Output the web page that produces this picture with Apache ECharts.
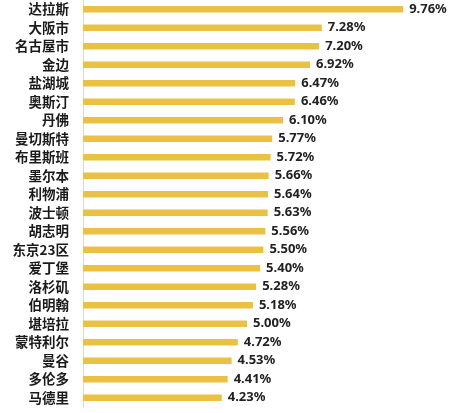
<!DOCTYPE html>
<html><head><meta charset="utf-8">
<script src="https://cdn.jsdelivr.net/npm/echarts@6/dist/echarts.min.js"></script>
<style>html,body{margin:0;padding:0;background:#fff}#c{width:457px;height:413px}</style>
</head><body><div id="c"></div>
<script>
const categories = ["达拉斯","大阪市","名古屋市","金边","盐湖城","奥斯汀","丹佛","曼切斯特","布里斯班","墨尔本","利物浦","波士顿","胡志明","东京23区","爱丁堡","洛杉矶","伯明翰","堪培拉","蒙特利尔","曼谷","多伦多","马德里"];
const values = [9.76,7.28,7.20,6.92,6.47,6.46,6.10,5.77,5.72,5.66,5.64,5.63,5.56,5.50,5.40,5.28,5.18,5.00,4.72,4.53,4.41,4.23];
const chart = echarts.init(document.getElementById('c'));
chart.setOption({
  animation:false,
  grid:{left:83,right:46,top:0,bottom:6,containLabel:false},
  xAxis:{type:'value',min:0,max:10,show:false},
  yAxis:{type:'category',data:categories,inverse:true,
    axisLine:{show:true,lineStyle:{color:'#d8d8d8',width:1}},
    axisTick:{show:false},
    axisLabel:{margin:14,color:'#1a1a1a',fontWeight:'bold',fontSize:13.5,fontFamily:'Noto Sans CJK SC'}},
  series:[{type:'bar',data:values,barWidth:6.5,
    itemStyle:{color:'#EAC142'},
    label:{show:true,position:'right',distance:6,color:'#222',fontWeight:'bold',fontSize:13,fontFamily:'Noto Sans',
      formatter:p=>p.value.toFixed(2)+'%'}}]
});
</script></body></html>
